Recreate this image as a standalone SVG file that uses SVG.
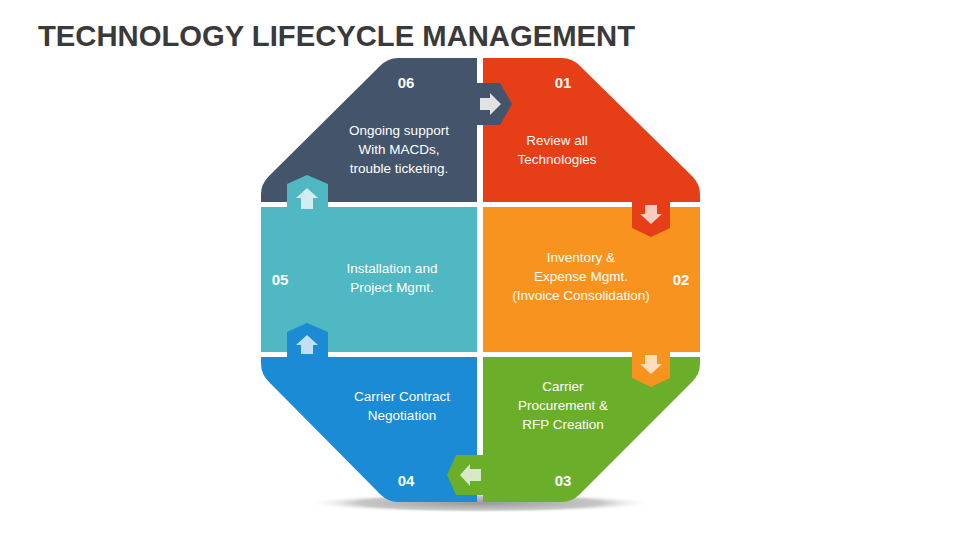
<svg xmlns="http://www.w3.org/2000/svg" width="960" height="540" viewBox="0 0 960 540">
<defs>
<radialGradient id="sh" cx="0.5" cy="0.5" r="0.5"><stop offset="0" stop-color="#999"/><stop offset="0.7" stop-color="#c8c8c8"/><stop offset="1" stop-color="#fff" stop-opacity="0"/></radialGradient>
<style>
.t{font-family:"Liberation Sans",Arial,sans-serif;fill:#fff;font-size:13.5px;text-anchor:middle}
.n{font-family:"Liberation Sans",Arial,sans-serif;fill:#fff;font-size:15px;font-weight:bold;text-anchor:middle}
.a{fill:#f2f2f2;opacity:0.9}
</style>
</defs>
<rect width="960" height="540" fill="#fff"/>
<text x="38" y="46" font-family="Liberation Sans,Arial,sans-serif" font-weight="bold" font-size="30" fill="#3a3a3a" textLength="597" lengthAdjust="spacingAndGlyphs">TECHNOLOGY LIFECYCLE MANAGEMENT</text>
<ellipse cx="480" cy="503" rx="175" ry="10" fill="url(#sh)"/>
<g id="n06"><path d="M477 58 L398 58 Q388 58 380 66 L269 176 Q261 184 261 194 L261 202 L477 202 Z" fill="#44546A"/>
<text class="n" x="406" y="88">06</text><text class="t" x="399" y="135">Ongoing support</text><text class="t" x="399" y="154">With MACDs,</text><text class="t" x="399" y="173">trouble ticketing.</text></g>
<g id="n01"><path d="M483 58 L562 58 Q572 58 580 66 L692 176 Q700 184 700 194 L700 202 L483 202 Z" fill="#E63E17"/>
<text class="n" x="563" y="88">01</text><text class="t" x="557" y="145">Review all</text><text class="t" x="557" y="164">Technologies</text></g>
<g id="n05"><rect x="261" y="207" width="216" height="145" fill="#4FB8C2"/>
<text class="n" x="280" y="285">05</text><text class="t" x="392" y="273">Installation and</text><text class="t" x="392" y="292">Project Mgmt.</text></g>
<g id="n02"><rect x="483" y="207" width="217" height="145" fill="#F7931E"/>
<text class="n" x="681" y="285">02</text><text class="t" x="581" y="262">Inventory &amp;</text><text class="t" x="581" y="281">Expense Mgmt.</text><text class="t" x="581" y="300">(Invoice Consolidation)</text></g>
<g id="n04"><path d="M261 357 L261 364 Q261 374 269 382 L380 494 Q388 502 398 502 L477 502 L477 357 Z" fill="#1A8BD4"/>
<text class="n" x="406" y="486">04</text><text class="t" x="402" y="401">Carrier Contract</text><text class="t" x="402" y="420">Negotiation</text></g>
<g id="n03"><path d="M483 357 L700 357 L700 364 Q700 374 692 382 L580 494 Q572 502 562 502 L483 502 Z" fill="#6AAE2A"/>
<text class="n" x="563" y="486">03</text><text class="t" x="563" y="391">Carrier</text><text class="t" x="563" y="410">Procurement &amp;</text><text class="t" x="563" y="429">RFP Creation</text></g>
<g id="connectors">
<path d="M477 83 L500 83 L512 104 L500 125 L477 125 Z" fill="#44546A"/>
<path class="a" d="M480 98 L490 98 L490 93 L501 104 L490 115 L490 110 L480 110 Z"/>
<path d="M632 202 L670 202 L670 228 L651 237 L632 228 Z" fill="#E63E17"/>
<path class="a" d="M645 205 L657 205 L657 214 L662 214 L651 224 L640 214 L645 214 Z" style="fill:#fadbd2"/>
<path d="M632 352 L670 352 L670 378 L651 387 L632 378 Z" fill="#F7931E"/>
<path class="a" d="M645 355 L657 355 L657 364 L662 364 L651 374 L640 364 L645 364 Z" style="fill:#fde6cc"/>
<path d="M483 455 L483 495 L456 495 L447 475 L456 455 Z" fill="#6AAE2A"/>
<path class="a" d="M481 469 L470 469 L470 464 L460 475 L470 486 L470 481 L481 481 Z" style="fill:#e4f0d8"/>
<path d="M287 357 L328 357 L328 332 L307 323 L287 332 Z" fill="#1A8BD4"/>
<path class="a" d="M301 354 L313 354 L313 345 L318 345 L307 335 L296 345 L301 345 Z" style="fill:#d5e9f7"/>
<path d="M287 207 L328 207 L328 184 L307 175 L287 184 Z" fill="#4FB8C2"/>
<path class="a" d="M301 209 L313 209 L313 198 L318 198 L307 188 L296 198 L301 198 Z" style="fill:#e0f3f5"/>
</g>
</svg>
